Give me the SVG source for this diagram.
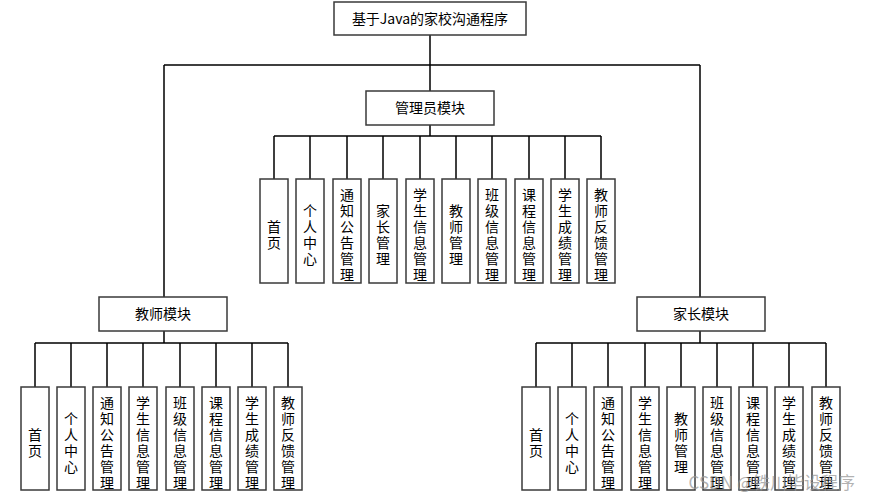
<svg xmlns="http://www.w3.org/2000/svg" width="869" height="502" viewBox="0 0 869 502">
<style>
.b{fill:#fff;stroke:#3a3a3a;stroke-width:1.5}
.t{font-family:"Noto Sans CJK SC","Liberation Sans",sans-serif;font-size:14px;fill:#000;text-anchor:middle}
.c{fill:none;stroke:#000;stroke-width:1.5}
</style>
<rect width="869" height="502" fill="#fff"/>
<g id="connectors">
<path class="c" d="M430 35V91M164 65H700M164 65V297M700 65V297"/>
<path class="c" d="M430 125V136M274 136H601M274 136V179M310 136V179M347 136V179M383 136V179M420 136V179M456 136V179M492 136V179M529 136V179M565 136V179M601 136V179"/>
<path class="c" d="M164 331V343M35 343H288M35 343V387M71 343V387M107 343V387M143 343V387M180 343V387M216 343V387M252 343V387M288 343V387"/>
<path class="c" d="M700 331V343M536 343H826M536 343V387M572 343V387M608 343V387M645 343V387M681 343V387M717 343V387M753 343V387M789 343V387M826 343V387"/>
</g>
<g id="root"><rect class="b" x="334" y="2" width="192" height="33"/><text class="t" x="430" y="24">基于Java的家校沟通程序</text></g>
<g id="admin"><rect class="b" x="366" y="91" width="128" height="34"/><text class="t" x="430" y="113">管理员模块</text></g>
<g id="teacher"><rect class="b" x="99" y="297" width="128" height="34"/><text class="t" x="163" y="319">教师模块</text></g>
<g id="parent"><rect class="b" x="637" y="297" width="128" height="34"/><text class="t" x="701" y="319">家长模块</text></g>
<g id="a1"><rect class="b" x="260" y="179" width="28" height="104"/><text class="t" x="274" y="232"><tspan x="274">首</tspan><tspan x="274" dy="16">页</tspan></text></g>
<g id="a2"><rect class="b" x="296" y="179" width="28" height="104"/><text class="t" x="310" y="216"><tspan x="310">个</tspan><tspan x="310" dy="16">人</tspan><tspan x="310" dy="16">中</tspan><tspan x="310" dy="16">心</tspan></text></g>
<g id="a3"><rect class="b" x="333" y="179" width="28" height="104"/><text class="t" x="347" y="200"><tspan x="347">通</tspan><tspan x="347" dy="16">知</tspan><tspan x="347" dy="16">公</tspan><tspan x="347" dy="16">告</tspan><tspan x="347" dy="16">管</tspan><tspan x="347" dy="16">理</tspan></text></g>
<g id="a4"><rect class="b" x="369" y="179" width="28" height="104"/><text class="t" x="383" y="216"><tspan x="383">家</tspan><tspan x="383" dy="16">长</tspan><tspan x="383" dy="16">管</tspan><tspan x="383" dy="16">理</tspan></text></g>
<g id="a5"><rect class="b" x="406" y="179" width="28" height="104"/><text class="t" x="420" y="200"><tspan x="420">学</tspan><tspan x="420" dy="16">生</tspan><tspan x="420" dy="16">信</tspan><tspan x="420" dy="16">息</tspan><tspan x="420" dy="16">管</tspan><tspan x="420" dy="16">理</tspan></text></g>
<g id="a6"><rect class="b" x="442" y="179" width="28" height="104"/><text class="t" x="456" y="216"><tspan x="456">教</tspan><tspan x="456" dy="16">师</tspan><tspan x="456" dy="16">管</tspan><tspan x="456" dy="16">理</tspan></text></g>
<g id="a7"><rect class="b" x="478" y="179" width="28" height="104"/><text class="t" x="492" y="200"><tspan x="492">班</tspan><tspan x="492" dy="16">级</tspan><tspan x="492" dy="16">信</tspan><tspan x="492" dy="16">息</tspan><tspan x="492" dy="16">管</tspan><tspan x="492" dy="16">理</tspan></text></g>
<g id="a8"><rect class="b" x="515" y="179" width="28" height="104"/><text class="t" x="529" y="200"><tspan x="529">课</tspan><tspan x="529" dy="16">程</tspan><tspan x="529" dy="16">信</tspan><tspan x="529" dy="16">息</tspan><tspan x="529" dy="16">管</tspan><tspan x="529" dy="16">理</tspan></text></g>
<g id="a9"><rect class="b" x="551" y="179" width="28" height="104"/><text class="t" x="565" y="200"><tspan x="565">学</tspan><tspan x="565" dy="16">生</tspan><tspan x="565" dy="16">成</tspan><tspan x="565" dy="16">绩</tspan><tspan x="565" dy="16">管</tspan><tspan x="565" dy="16">理</tspan></text></g>
<g id="a10"><rect class="b" x="587" y="179" width="28" height="104"/><text class="t" x="601" y="200"><tspan x="601">教</tspan><tspan x="601" dy="16">师</tspan><tspan x="601" dy="16">反</tspan><tspan x="601" dy="16">馈</tspan><tspan x="601" dy="16">管</tspan><tspan x="601" dy="16">理</tspan></text></g>
<g id="t1"><rect class="b" x="21" y="387" width="28" height="103"/><text class="t" x="35" y="440"><tspan x="35">首</tspan><tspan x="35" dy="16">页</tspan></text></g>
<g id="t2"><rect class="b" x="57" y="387" width="28" height="103"/><text class="t" x="71" y="424"><tspan x="71">个</tspan><tspan x="71" dy="16">人</tspan><tspan x="71" dy="16">中</tspan><tspan x="71" dy="16">心</tspan></text></g>
<g id="t3"><rect class="b" x="93" y="387" width="28" height="103"/><text class="t" x="107" y="408"><tspan x="107">通</tspan><tspan x="107" dy="16">知</tspan><tspan x="107" dy="16">公</tspan><tspan x="107" dy="16">告</tspan><tspan x="107" dy="16">管</tspan><tspan x="107" dy="16">理</tspan></text></g>
<g id="t4"><rect class="b" x="129" y="387" width="28" height="103"/><text class="t" x="143" y="408"><tspan x="143">学</tspan><tspan x="143" dy="16">生</tspan><tspan x="143" dy="16">信</tspan><tspan x="143" dy="16">息</tspan><tspan x="143" dy="16">管</tspan><tspan x="143" dy="16">理</tspan></text></g>
<g id="t5"><rect class="b" x="166" y="387" width="28" height="103"/><text class="t" x="180" y="408"><tspan x="180">班</tspan><tspan x="180" dy="16">级</tspan><tspan x="180" dy="16">信</tspan><tspan x="180" dy="16">息</tspan><tspan x="180" dy="16">管</tspan><tspan x="180" dy="16">理</tspan></text></g>
<g id="t6"><rect class="b" x="202" y="387" width="28" height="103"/><text class="t" x="216" y="408"><tspan x="216">课</tspan><tspan x="216" dy="16">程</tspan><tspan x="216" dy="16">信</tspan><tspan x="216" dy="16">息</tspan><tspan x="216" dy="16">管</tspan><tspan x="216" dy="16">理</tspan></text></g>
<g id="t7"><rect class="b" x="238" y="387" width="28" height="103"/><text class="t" x="252" y="408"><tspan x="252">学</tspan><tspan x="252" dy="16">生</tspan><tspan x="252" dy="16">成</tspan><tspan x="252" dy="16">绩</tspan><tspan x="252" dy="16">管</tspan><tspan x="252" dy="16">理</tspan></text></g>
<g id="t8"><rect class="b" x="274" y="387" width="28" height="103"/><text class="t" x="288" y="408"><tspan x="288">教</tspan><tspan x="288" dy="16">师</tspan><tspan x="288" dy="16">反</tspan><tspan x="288" dy="16">馈</tspan><tspan x="288" dy="16">管</tspan><tspan x="288" dy="16">理</tspan></text></g>
<g id="p1"><rect class="b" x="522" y="387" width="28" height="103"/><text class="t" x="536" y="440"><tspan x="536">首</tspan><tspan x="536" dy="16">页</tspan></text></g>
<g id="p2"><rect class="b" x="558" y="387" width="28" height="103"/><text class="t" x="572" y="424"><tspan x="572">个</tspan><tspan x="572" dy="16">人</tspan><tspan x="572" dy="16">中</tspan><tspan x="572" dy="16">心</tspan></text></g>
<g id="p3"><rect class="b" x="594" y="387" width="28" height="103"/><text class="t" x="608" y="408"><tspan x="608">通</tspan><tspan x="608" dy="16">知</tspan><tspan x="608" dy="16">公</tspan><tspan x="608" dy="16">告</tspan><tspan x="608" dy="16">管</tspan><tspan x="608" dy="16">理</tspan></text></g>
<g id="p4"><rect class="b" x="631" y="387" width="28" height="103"/><text class="t" x="645" y="408"><tspan x="645">学</tspan><tspan x="645" dy="16">生</tspan><tspan x="645" dy="16">信</tspan><tspan x="645" dy="16">息</tspan><tspan x="645" dy="16">管</tspan><tspan x="645" dy="16">理</tspan></text></g>
<g id="p5"><rect class="b" x="667" y="387" width="28" height="103"/><text class="t" x="681" y="424"><tspan x="681">教</tspan><tspan x="681" dy="16">师</tspan><tspan x="681" dy="16">管</tspan><tspan x="681" dy="16">理</tspan></text></g>
<g id="p6"><rect class="b" x="703" y="387" width="28" height="103"/><text class="t" x="717" y="408"><tspan x="717">班</tspan><tspan x="717" dy="16">级</tspan><tspan x="717" dy="16">信</tspan><tspan x="717" dy="16">息</tspan><tspan x="717" dy="16">管</tspan><tspan x="717" dy="16">理</tspan></text></g>
<g id="p7"><rect class="b" x="739" y="387" width="28" height="103"/><text class="t" x="753" y="408"><tspan x="753">课</tspan><tspan x="753" dy="16">程</tspan><tspan x="753" dy="16">信</tspan><tspan x="753" dy="16">息</tspan><tspan x="753" dy="16">管</tspan><tspan x="753" dy="16">理</tspan></text></g>
<g id="p8"><rect class="b" x="775" y="387" width="28" height="103"/><text class="t" x="789" y="408"><tspan x="789">学</tspan><tspan x="789" dy="16">生</tspan><tspan x="789" dy="16">成</tspan><tspan x="789" dy="16">绩</tspan><tspan x="789" dy="16">管</tspan><tspan x="789" dy="16">理</tspan></text></g>
<g id="p9"><rect class="b" x="812" y="387" width="28" height="103"/><text class="t" x="826" y="408"><tspan x="826">教</tspan><tspan x="826" dy="16">师</tspan><tspan x="826" dy="16">反</tspan><tspan x="826" dy="16">馈</tspan><tspan x="826" dy="16">管</tspan><tspan x="826" dy="16">理</tspan></text></g>
<text x="855" y="489" font-family="Noto Sans CJK SC,Liberation Sans,sans-serif" font-size="17" fill="#999" fill-opacity="0.75" text-anchor="end">CSDN @铁川毕设程序</text>
</svg>
